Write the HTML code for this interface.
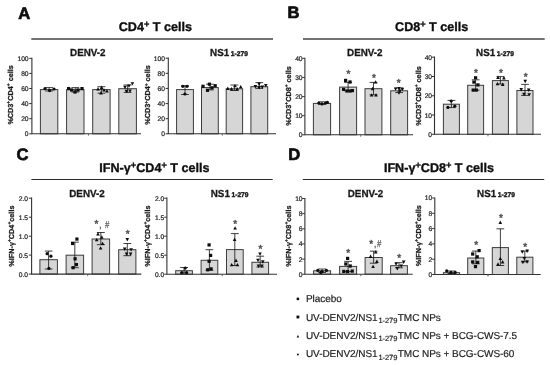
<!DOCTYPE html>
<html lang="en">
<head>
<meta charset="utf-8">
<title>T cell responses</title>
<style>
html,body{margin:0;padding:0;background:#fff;}
body{width:550px;height:365px;overflow:hidden;}
svg{display:block;text-rendering:geometricPrecision;font-family:'Liberation Sans', Arial, sans-serif;}
</style>
</head>
<body>
<svg width="550" height="365" viewBox="0 0 550 365">
<defs><filter id="soft" x="0" y="0" width="550" height="365" filterUnits="userSpaceOnUse"><feGaussianBlur stdDeviation="0.25"/></filter></defs>
<rect width="550" height="365" fill="#fff"/>
<g filter="url(#soft)">
<g font-weight="bold" fill="#111" stroke="#111" stroke-width="0.7" font-size="16.6">
<text x="18.3" y="18.9">A</text><text x="287.6" y="17.9">B</text><text x="16.6" y="159.6">C</text><text x="288.2" y="159.7">D</text>
</g>
<g font-weight="bold" fill="#111" stroke="#111" stroke-width="0.35" font-size="12.6" text-anchor="middle">
<text x="155.4" y="31.2">CD4<tspan font-size="9.2" dy="-4.0">+</tspan><tspan dy="4.0"> T cells</tspan></text>
<text x="431.7" y="31.3">CD8<tspan font-size="9.2" dy="-4.0">+</tspan><tspan dy="4.0"> T cells</tspan></text>
<text x="154.4" y="171.8">IFN-γ<tspan font-size="9.2" dy="-4.0">+</tspan><tspan dy="4.0">CD4</tspan><tspan font-size="9.2" dy="-4.0">+</tspan><tspan dy="4.0"> T cells</tspan></text>
<text x="439.0" y="171.8">IFN-γ<tspan font-size="9.2" dy="-4.0">+</tspan><tspan dy="4.0">CD8</tspan><tspan font-size="9.2" dy="-4.0">+</tspan><tspan dy="4.0"> T cells</tspan></text>
</g>
<g stroke="#444" stroke-width="1.3">
<path d="M31.3 39H273"/><path d="M303 39H544.7"/>
</g>
<g stroke="#2a2a2a" stroke-width="1.05">
<path d="M31.4 179.4H272.7"/><path d="M302.8 179.4H544.2"/>
</g>
<g font-size="6.7" fill="#222" stroke="#222" stroke-width="0.22" text-anchor="end">
<text x="28.6" y="136.2">0</text>
<text x="28.6" y="121.2">20</text>
<text x="28.6" y="106.1">40</text>
<text x="28.6" y="91.0">60</text>
<text x="28.6" y="75.9">80</text>
<text x="28.6" y="60.8">100</text>
</g>
<g fill="#d6d6d6" stroke="#3c3c3c" stroke-width="1">
<rect x="40.4" y="89.6" width="17.4" height="44.2"/>
<rect x="66.6" y="89.6" width="17.4" height="44.2"/>
<rect x="92.7" y="89.6" width="17.4" height="44.2"/>
<rect x="118.8" y="88.7" width="17.6" height="45.1"/>
</g>
<g stroke="#333" stroke-width="1.1" fill="none">
<path d="M31.9 57.7V133.8M31.3 133.8H141"/>
<path d="M29.2 133.8H31.9" stroke-width="1"/>
<path d="M29.2 118.7H31.9" stroke-width="1"/>
<path d="M29.2 103.6H31.9" stroke-width="1"/>
<path d="M29.2 88.5H31.9" stroke-width="1"/>
<path d="M29.2 73.4H31.9" stroke-width="1"/>
<path d="M29.2 58.3H31.9" stroke-width="1"/>
</g>
<path d="M87.8 134.3H88.9L88.3 136.2Z" fill="#2a2a2a"/>
<g stroke="#111" stroke-width="0.8" fill="none">
<path d="M49.1 87.6V91.0M45.2 87.6H53.0M45.2 91.0H53.0"/>
<path d="M75.3 87.6V92.0M71.4 87.6H79.2M71.4 92.0H79.2"/>
<path d="M101.4 86.7V93.2M97.5 86.7H105.3M97.5 93.2H105.3"/>
<path d="M127.6 85.0V92.4M123.7 85.0H131.5M123.7 92.4H131.5"/>
</g>
<g fill="#0a0a0a">
<circle cx="45.0" cy="88.6" r="1.60"/>
<circle cx="49.6" cy="90.6" r="1.60"/>
<circle cx="54.0" cy="89.0" r="1.60"/>
<rect x="67.0" y="87.0" width="3.2" height="3.2"/>
<rect x="70.0" y="88.4" width="3.2" height="3.2"/>
<rect x="73.4" y="90.4" width="3.2" height="3.2"/>
<rect x="76.4" y="88.4" width="3.2" height="3.2"/>
<rect x="80.4" y="87.0" width="3.2" height="3.2"/>
<path d="M96.2 90.4L99.8 90.4L98.0 87.0Z"/>
<path d="M99.8 89.0L103.4 89.0L101.6 85.6Z"/>
<path d="M102.2 91.6L105.8 91.6L104.0 88.2Z"/>
<path d="M105.2 92.6L108.8 92.6L107.0 89.2Z"/>
<path d="M99.2 94.6L102.8 94.6L101.0 91.2Z"/>
<path d="M123.2 85.8L126.8 85.8L125.0 89.2Z"/>
<path d="M127.2 84.4L130.8 84.4L129.0 87.8Z"/>
<path d="M130.6 82.2L134.2 82.2L132.4 85.6Z"/>
<path d="M124.6 89.8L128.2 89.8L126.4 93.2Z"/>
<path d="M128.2 89.4L131.8 89.4L130.0 92.8Z"/>
</g>
<g font-size="10" fill="#5c5c5c" stroke="#5c5c5c" stroke-width="0.6" stroke-linejoin="round" text-anchor="middle">
</g>
<text transform="translate(12.6 94.9) rotate(-90)" font-size="7.25" font-weight="bold" fill="#1a1a1a" stroke="#1a1a1a" stroke-width="0.25" text-anchor="middle">%CD3<tspan font-size="5" dy="-2.7">+</tspan><tspan dy="2.7">CD4</tspan><tspan font-size="5" dy="-2.7">+</tspan><tspan dy="2.7"> cells</tspan></text>
<text transform="translate(87.8 56.3) scale(0.965 1)" font-size="10.2" font-weight="bold" fill="#1a1a1a" stroke="#1a1a1a" stroke-width="0.3" text-anchor="middle">DENV-2</text>
<g font-size="6.7" fill="#222" stroke="#222" stroke-width="0.22" text-anchor="end">
<text x="165.0" y="136.2">0</text>
<text x="165.0" y="121.1">20</text>
<text x="165.0" y="106.0">40</text>
<text x="165.0" y="90.9">60</text>
<text x="165.0" y="75.8">80</text>
<text x="165.0" y="60.7">100</text>
</g>
<g fill="#d6d6d6" stroke="#3c3c3c" stroke-width="1">
<rect x="176.6" y="89.6" width="16.8" height="44.2"/>
<rect x="201.5" y="87.6" width="16.8" height="46.2"/>
<rect x="226.2" y="88.8" width="16.4" height="45.0"/>
<rect x="250.9" y="86.7" width="16.8" height="47.1"/>
</g>
<g stroke="#333" stroke-width="1.1" fill="none">
<path d="M168.3 57.6V133.8M167.7 133.8H276"/>
<path d="M165.6 133.8H168.3" stroke-width="1"/>
<path d="M165.6 118.7H168.3" stroke-width="1"/>
<path d="M165.6 103.6H168.3" stroke-width="1"/>
<path d="M165.6 88.4H168.3" stroke-width="1"/>
<path d="M165.6 73.3H168.3" stroke-width="1"/>
<path d="M165.6 58.2H168.3" stroke-width="1"/>
</g>
<path d="M221.7 134.3H222.8L222.2 136.2Z" fill="#2a2a2a"/>
<g stroke="#111" stroke-width="0.8" fill="none">
<path d="M185.0 85.7V94.5M181.1 85.7H188.9M181.1 94.5H188.9"/>
<path d="M209.9 84.2V89.9M206.0 84.2H213.8M206.0 89.9H213.8"/>
<path d="M234.4 85.0V90.5M230.5 85.0H238.3M230.5 90.5H238.3"/>
<path d="M259.3 82.6V88.4M255.4 82.6H263.2M255.4 88.4H263.2"/>
</g>
<g fill="#0a0a0a">
<circle cx="182.8" cy="86.3" r="1.60"/>
<circle cx="187.0" cy="86.3" r="1.60"/>
<circle cx="184.9" cy="94.0" r="1.60"/>
<rect x="201.4" y="84.7" width="3.2" height="3.2"/>
<rect x="207.8" y="82.6" width="3.2" height="3.2"/>
<rect x="213.6" y="84.1" width="3.2" height="3.2"/>
<rect x="210.4" y="86.2" width="3.2" height="3.2"/>
<rect x="205.9" y="88.7" width="3.2" height="3.2"/>
<path d="M226.0 90.0L229.6 90.0L227.8 86.6Z"/>
<path d="M229.7 90.4L233.3 90.4L231.5 87.0Z"/>
<path d="M233.2 87.3L236.8 87.3L235.0 83.9Z"/>
<path d="M235.4 90.4L239.0 90.4L237.2 87.0Z"/>
<path d="M238.9 88.3L242.5 88.3L240.7 84.9Z"/>
<path d="M253.6 85.1L257.2 85.1L255.4 88.5Z"/>
<path d="M257.3 82.6L260.9 82.6L259.1 86.0Z"/>
<path d="M260.5 85.6L264.1 85.6L262.3 89.0Z"/>
<path d="M264.0 84.1L267.6 84.1L265.8 87.5Z"/>
<path d="M257.3 86.2L260.9 86.2L259.1 89.6Z"/>
</g>
<g font-size="10" fill="#5c5c5c" stroke="#5c5c5c" stroke-width="0.6" stroke-linejoin="round" text-anchor="middle">
</g>
<text transform="translate(150.2 95.0) rotate(-90)" font-size="7.25" font-weight="bold" fill="#1a1a1a" stroke="#1a1a1a" stroke-width="0.25" text-anchor="middle">%CD3<tspan font-size="5" dy="-2.7">+</tspan><tspan dy="2.7">CD4</tspan><tspan font-size="5" dy="-2.7">+</tspan><tspan dy="2.7"> cells</tspan></text>
<text transform="translate(229.0 56.3) scale(0.965 1)" font-size="10.2" font-weight="bold" fill="#1a1a1a" stroke="#1a1a1a" stroke-width="0.3" text-anchor="middle">NS1<tspan font-size="6.9" dx="1.7" dy="0.1" stroke-width="0.4">1-279</tspan></text>
<g font-size="6.7" fill="#222" stroke="#222" stroke-width="0.22" text-anchor="end">
<text x="302.6" y="137.2">0</text>
<text x="302.6" y="118.1">10</text>
<text x="302.6" y="99.0">20</text>
<text x="302.6" y="79.9">30</text>
<text x="302.6" y="60.8">40</text>
</g>
<g fill="#d6d6d6" stroke="#3c3c3c" stroke-width="1">
<rect x="313.4" y="103.4" width="17.2" height="31.4"/>
<rect x="339.6" y="87.1" width="17.0" height="47.7"/>
<rect x="365.0" y="88.7" width="16.9" height="46.1"/>
<rect x="390.7" y="90.8" width="16.9" height="44.0"/>
</g>
<g stroke="#333" stroke-width="1.1" fill="none">
<path d="M304.9 57.7V134.8M304.3 134.8H413"/>
<path d="M302.2 134.8H304.9" stroke-width="1"/>
<path d="M302.2 115.7H304.9" stroke-width="1"/>
<path d="M302.2 96.6H304.9" stroke-width="1"/>
<path d="M302.2 77.4H304.9" stroke-width="1"/>
<path d="M302.2 58.3H304.9" stroke-width="1"/>
</g>
<path d="M360.2 135.3H361.4L360.8 137.2Z" fill="#2a2a2a"/>
<g stroke="#111" stroke-width="0.8" fill="none">
<path d="M322.0 101.8V104.4M318.1 101.8H325.9M318.1 104.4H325.9"/>
<path d="M348.1 82.4V90.8M344.2 82.4H352.0M344.2 90.8H352.0"/>
<path d="M373.5 82.4V94.8M369.6 82.4H377.4M369.6 94.8H377.4"/>
<path d="M399.1 88.0V92.6M395.2 88.0H403.0M395.2 92.6H403.0"/>
</g>
<g fill="#0a0a0a">
<circle cx="318.8" cy="103.0" r="1.60"/>
<circle cx="322.0" cy="104.0" r="1.60"/>
<circle cx="325.6" cy="103.0" r="1.60"/>
<circle cx="327.4" cy="102.4" r="1.60"/>
<rect x="344.0" y="78.8" width="3.2" height="3.2"/>
<rect x="348.4" y="80.4" width="3.2" height="3.2"/>
<rect x="342.0" y="87.8" width="3.2" height="3.2"/>
<rect x="345.4" y="89.4" width="3.2" height="3.2"/>
<rect x="348.4" y="89.4" width="3.2" height="3.2"/>
<rect x="350.8" y="89.0" width="3.2" height="3.2"/>
<path d="M373.8 83.6L377.4 83.6L375.6 80.2Z"/>
<path d="M370.8 90.2L374.4 90.2L372.6 86.8Z"/>
<path d="M369.8 96.6L373.4 96.6L371.6 93.2Z"/>
<path d="M374.2 96.6L377.8 96.6L376.0 93.2Z"/>
<path d="M393.8 87.4L397.4 87.4L395.6 90.8Z"/>
<path d="M397.2 87.0L400.8 87.0L399.0 90.4Z"/>
<path d="M400.6 87.8L404.2 87.8L402.4 91.2Z"/>
<path d="M398.2 89.4L401.8 89.4L400.0 92.8Z"/>
<path d="M397.2 91.4L400.8 91.4L399.0 94.8Z"/>
</g>
<g font-size="10" fill="#5c5c5c" stroke="#5c5c5c" stroke-width="0.6" stroke-linejoin="round" text-anchor="middle">
<text x="348.4" y="76.9">*</text>
<text x="374.0" y="80.9">*</text>
<text x="398.8" y="85.9">*</text>
</g>
<text transform="translate(290.6 96.0) rotate(-90)" font-size="7.25" font-weight="bold" fill="#1a1a1a" stroke="#1a1a1a" stroke-width="0.25" text-anchor="middle">%CD3<tspan font-size="5" dy="-2.7">+</tspan><tspan dy="2.7">CD8</tspan><tspan font-size="5" dy="-2.7">+</tspan><tspan dy="2.7"> cells</tspan></text>
<text transform="translate(364.8 56.3) scale(0.965 1)" font-size="10.2" font-weight="bold" fill="#1a1a1a" stroke="#1a1a1a" stroke-width="0.3" text-anchor="middle">DENV-2</text>
<g font-size="6.7" fill="#222" stroke="#222" stroke-width="0.22" text-anchor="end">
<text x="432.1" y="136.8">0</text>
<text x="432.1" y="117.5">10</text>
<text x="432.1" y="98.2">20</text>
<text x="432.1" y="78.9">30</text>
<text x="432.1" y="59.7">40</text>
</g>
<g fill="#d6d6d6" stroke="#3c3c3c" stroke-width="1">
<rect x="443.4" y="104.2" width="16.0" height="30.1"/>
<rect x="467.7" y="85.3" width="15.9" height="49.0"/>
<rect x="492.4" y="80.6" width="16.0" height="53.7"/>
<rect x="516.9" y="90.5" width="16.1" height="43.8"/>
</g>
<g stroke="#333" stroke-width="1.1" fill="none">
<path d="M434.5 56.6V134.3M433.9 134.3H541"/>
<path d="M431.8 134.3H434.5" stroke-width="1"/>
<path d="M431.8 115.0H434.5" stroke-width="1"/>
<path d="M431.8 95.8H434.5" stroke-width="1"/>
<path d="M431.8 76.5H434.5" stroke-width="1"/>
<path d="M431.8 57.2H434.5" stroke-width="1"/>
</g>
<path d="M487.4 134.8H488.6L488.0 136.7Z" fill="#2a2a2a"/>
<g stroke="#111" stroke-width="0.8" fill="none">
<path d="M451.4 100.4V107.6M447.5 100.4H455.3M447.5 107.6H455.3"/>
<path d="M475.6 79.8V90.2M471.8 79.8H479.5M471.8 90.2H479.5"/>
<path d="M500.4 76.6V84.0M496.5 76.6H504.3M496.5 84.0H504.3"/>
<path d="M525.0 84.4V95.4M521.1 84.4H528.9M521.1 95.4H528.9"/>
</g>
<g fill="#0a0a0a">
<circle cx="451.2" cy="101.0" r="1.60"/>
<circle cx="447.9" cy="107.4" r="1.60"/>
<circle cx="454.8" cy="106.2" r="1.60"/>
<rect x="474.0" y="76.2" width="3.2" height="3.2"/>
<rect x="472.3" y="80.5" width="3.2" height="3.2"/>
<rect x="476.3" y="83.3" width="3.2" height="3.2"/>
<rect x="471.6" y="88.5" width="3.2" height="3.2"/>
<rect x="474.7" y="88.5" width="3.2" height="3.2"/>
<path d="M496.2 79.0L499.8 79.0L498.0 75.6Z"/>
<path d="M502.1 79.4L505.7 79.4L503.9 76.0Z"/>
<path d="M495.7 85.3L499.3 85.3L497.5 81.9Z"/>
<path d="M500.9 86.0L504.5 86.0L502.7 82.6Z"/>
<path d="M523.4 79.8L527.0 79.8L525.2 83.2Z"/>
<path d="M519.4 88.0L523.0 88.0L521.2 91.4Z"/>
<path d="M526.9 88.5L530.5 88.5L528.7 91.9Z"/>
<path d="M522.2 92.8L525.8 92.8L524.0 96.2Z"/>
<path d="M527.4 93.2L531.0 93.2L529.2 96.6Z"/>
</g>
<g font-size="10" fill="#5c5c5c" stroke="#5c5c5c" stroke-width="0.6" stroke-linejoin="round" text-anchor="middle">
<text x="476.0" y="75.5">*</text>
<text x="500.9" y="75.5">*</text>
<text x="525.7" y="79.8">*</text>
</g>
<text transform="translate(420.6 96.0) rotate(-90)" font-size="7.25" font-weight="bold" fill="#1a1a1a" stroke="#1a1a1a" stroke-width="0.25" text-anchor="middle">%CD3<tspan font-size="5" dy="-2.7">+</tspan><tspan dy="2.7">CD8</tspan><tspan font-size="5" dy="-2.7">+</tspan><tspan dy="2.7"> cells</tspan></text>
<text transform="translate(495.0 56.3) scale(0.965 1)" font-size="10.2" font-weight="bold" fill="#1a1a1a" stroke="#1a1a1a" stroke-width="0.3" text-anchor="middle">NS1<tspan font-size="6.9" dx="1.7" dy="0.1" stroke-width="0.4">1-279</tspan></text>
<g font-size="6.7" fill="#222" stroke="#222" stroke-width="0.22" text-anchor="end">
<text x="28.1" y="276.6">0.0</text>
<text x="28.1" y="257.6">0.5</text>
<text x="28.1" y="238.6">1.0</text>
<text x="28.1" y="219.6">1.5</text>
<text x="28.1" y="200.6">2.0</text>
</g>
<g fill="#d6d6d6" stroke="#3c3c3c" stroke-width="1">
<rect x="39.9" y="259.7" width="17.5" height="14.4"/>
<rect x="66.1" y="255.2" width="17.5" height="18.9"/>
<rect x="92.1" y="239.0" width="17.5" height="35.1"/>
<rect x="118.7" y="249.7" width="17.2" height="24.4"/>
</g>
<g stroke="#333" stroke-width="1.1" fill="none">
<path d="M31.6 197.6V274.1M31.0 274.1H141.3"/>
<path d="M28.9 274.1H31.6" stroke-width="1"/>
<path d="M28.9 255.1H31.6" stroke-width="1"/>
<path d="M28.9 236.2H31.6" stroke-width="1"/>
<path d="M28.9 217.2H31.6" stroke-width="1"/>
<path d="M28.9 198.2H31.6" stroke-width="1"/>
</g>
<path d="M87.2 274.6H88.4L87.8 276.5Z" fill="#2a2a2a"/>
<g stroke="#111" stroke-width="0.8" fill="none">
<path d="M48.6 251.1V269.0M44.8 251.1H52.5M44.8 269.0H52.5"/>
<path d="M74.8 242.2V267.7M70.9 242.2H78.8M70.9 267.7H78.8"/>
<path d="M100.8 232.5V244.7M96.9 232.5H104.8M96.9 244.7H104.8"/>
<path d="M127.3 243.5V255.7M123.4 243.5H131.2M123.4 255.7H131.2"/>
</g>
<g fill="#0a0a0a">
<circle cx="47.1" cy="253.7" r="1.60"/>
<circle cx="50.9" cy="256.2" r="1.60"/>
<circle cx="48.9" cy="268.4" r="1.60"/>
<rect x="75.3" y="237.5" width="3.2" height="3.2"/>
<rect x="71.0" y="241.9" width="3.2" height="3.2"/>
<rect x="73.5" y="257.2" width="3.2" height="3.2"/>
<rect x="74.8" y="263.0" width="3.2" height="3.2"/>
<rect x="71.5" y="266.1" width="3.2" height="3.2"/>
<path d="M96.2 235.4L99.8 235.4L98.0 232.0Z"/>
<path d="M100.0 238.7L103.6 238.7L101.8 235.3Z"/>
<path d="M94.9 241.3L98.5 241.3L96.7 237.9Z"/>
<path d="M100.8 245.1L104.4 245.1L102.6 241.7Z"/>
<path d="M98.8 249.6L102.4 249.6L100.6 246.2Z"/>
<path d="M125.5 238.1L129.1 238.1L127.3 241.5Z"/>
<path d="M122.9 247.5L126.5 247.5L124.7 250.9Z"/>
<path d="M129.3 248.2L132.9 248.2L131.1 251.6Z"/>
<path d="M124.7 252.6L128.3 252.6L126.5 256.0Z"/>
<path d="M128.8 252.6L132.4 252.6L130.6 256.0Z"/>
</g>
<g font-size="10" fill="#5c5c5c" stroke="#5c5c5c" stroke-width="0.6" stroke-linejoin="round" text-anchor="middle">
<text x="96.4" y="227.3">*</text>
<text x="127.6" y="236.8">*</text>
</g>
<g font-size="10" fill="#5c5c5c" stroke="#5c5c5c" stroke-width="0.25">
<text x="99.1" y="227.5">,</text>
<text transform="translate(104.9 227.5) scale(0.78 1.02)">#</text>
</g>
<text transform="translate(13.9 236.1) rotate(-90)" font-size="7.25" font-weight="bold" fill="#1a1a1a" stroke="#1a1a1a" stroke-width="0.25" text-anchor="middle">%IFN-γ<tspan font-size="5" dy="-2.7">+</tspan><tspan dy="2.7">CD4</tspan><tspan font-size="5" dy="-2.7">+</tspan><tspan dy="2.7">cells</tspan></text>
<text transform="translate(87.0 196.8) scale(0.965 1)" font-size="10.2" font-weight="bold" fill="#1a1a1a" stroke="#1a1a1a" stroke-width="0.3" text-anchor="middle">DENV-2</text>
<g font-size="6.7" fill="#222" stroke="#222" stroke-width="0.22" text-anchor="end">
<text x="164.2" y="276.6">0.0</text>
<text x="164.2" y="257.6">0.5</text>
<text x="164.2" y="238.6">1.0</text>
<text x="164.2" y="219.6">1.5</text>
<text x="164.2" y="200.6">2.0</text>
</g>
<g fill="#d6d6d6" stroke="#3c3c3c" stroke-width="1">
<rect x="175.7" y="270.7" width="16.7" height="3.5"/>
<rect x="201.1" y="260.3" width="16.7" height="13.9"/>
<rect x="226.5" y="249.6" width="16.7" height="24.6"/>
<rect x="251.9" y="262.3" width="16.7" height="11.9"/>
</g>
<g stroke="#333" stroke-width="1.1" fill="none">
<path d="M166.9 197.6V274.2M166.3 274.2H277"/>
<path d="M164.2 274.2H166.9" stroke-width="1"/>
<path d="M164.2 255.2H166.9" stroke-width="1"/>
<path d="M164.2 236.2H166.9" stroke-width="1"/>
<path d="M164.2 217.2H166.9" stroke-width="1"/>
<path d="M164.2 198.2H166.9" stroke-width="1"/>
</g>
<path d="M221.5 274.7H222.7L222.1 276.6Z" fill="#2a2a2a"/>
<g stroke="#111" stroke-width="0.8" fill="none">
<path d="M184.1 267.5V273.0M180.2 267.5H188.0M180.2 273.0H188.0"/>
<path d="M209.4 249.7V270.3M205.5 249.7H213.3M205.5 270.3H213.3"/>
<path d="M234.8 233.6V265.5M230.9 233.6H238.8M230.9 265.5H238.8"/>
<path d="M260.2 256.2V267.0M256.4 256.2H264.1M256.4 267.0H264.1"/>
</g>
<g fill="#0a0a0a">
<circle cx="185.2" cy="268.1" r="1.60"/>
<circle cx="181.8" cy="272.6" r="1.60"/>
<circle cx="186.6" cy="272.6" r="1.60"/>
<rect x="207.5" y="243.3" width="3.2" height="3.2"/>
<rect x="209.0" y="253.8" width="3.2" height="3.2"/>
<rect x="207.5" y="259.7" width="3.2" height="3.2"/>
<rect x="206.1" y="268.2" width="3.2" height="3.2"/>
<rect x="209.5" y="267.3" width="3.2" height="3.2"/>
<path d="M233.3 229.6L236.9 229.6L235.1 226.2Z"/>
<path d="M232.8 240.9L236.4 240.9L234.6 237.5Z"/>
<path d="M234.2 262.0L237.8 262.0L236.0 258.6Z"/>
<path d="M229.9 266.3L233.5 266.3L231.7 262.9Z"/>
<path d="M235.6 266.3L239.2 266.3L237.4 262.9Z"/>
<path d="M258.2 252.4L261.8 252.4L260.0 255.8Z"/>
<path d="M256.2 258.8L259.8 258.8L258.0 262.2Z"/>
<path d="M261.0 260.3L264.6 260.3L262.8 263.7Z"/>
<path d="M256.7 264.5L260.3 264.5L258.5 267.9Z"/>
<path d="M260.1 264.5L263.7 264.5L261.9 267.9Z"/>
</g>
<g font-size="10" fill="#5c5c5c" stroke="#5c5c5c" stroke-width="0.6" stroke-linejoin="round" text-anchor="middle">
<text x="235.1" y="226.6">*</text>
<text x="260.5" y="252.0">*</text>
</g>
<text transform="translate(150.0 236.1) rotate(-90)" font-size="7.25" font-weight="bold" fill="#1a1a1a" stroke="#1a1a1a" stroke-width="0.25" text-anchor="middle">%IFN-γ<tspan font-size="5" dy="-2.7">+</tspan><tspan dy="2.7">CD4</tspan><tspan font-size="5" dy="-2.7">+</tspan><tspan dy="2.7">cells</tspan></text>
<text transform="translate(229.6 196.7) scale(0.965 1)" font-size="10.2" font-weight="bold" fill="#1a1a1a" stroke="#1a1a1a" stroke-width="0.3" text-anchor="middle">NS1<tspan font-size="6.9" dx="1.7" dy="0.1" stroke-width="0.4">1-279</tspan></text>
<g font-size="6.7" fill="#222" stroke="#222" stroke-width="0.22" text-anchor="end">
<text x="302.6" y="276.6">0</text>
<text x="302.6" y="261.5">2</text>
<text x="302.6" y="246.4">4</text>
<text x="302.6" y="231.2">6</text>
<text x="302.6" y="216.1">8</text>
<text x="302.6" y="200.9">10</text>
</g>
<g fill="#d6d6d6" stroke="#3c3c3c" stroke-width="1">
<rect x="313.6" y="270.8" width="17.0" height="3.4"/>
<rect x="339.6" y="266.4" width="17.0" height="7.8"/>
<rect x="365.1" y="257.5" width="17.1" height="16.7"/>
<rect x="390.6" y="265.7" width="16.8" height="8.5"/>
</g>
<g stroke="#333" stroke-width="1.1" fill="none">
<path d="M304.9 197.9V274.2M304.3 274.2H412.7"/>
<path d="M302.2 274.2H304.9" stroke-width="1"/>
<path d="M302.2 259.1H304.9" stroke-width="1"/>
<path d="M302.2 243.9H304.9" stroke-width="1"/>
<path d="M302.2 228.8H304.9" stroke-width="1"/>
<path d="M302.2 213.6H304.9" stroke-width="1"/>
<path d="M302.2 198.5H304.9" stroke-width="1"/>
</g>
<path d="M360.2 274.7H361.5L360.9 276.6Z" fill="#2a2a2a"/>
<g stroke="#111" stroke-width="0.8" fill="none">
<path d="M322.1 269.0V272.4M318.2 269.0H326.0M318.2 272.4H326.0"/>
<path d="M348.1 261.4V271.6M344.2 261.4H352.0M344.2 271.6H352.0"/>
<path d="M373.6 251.2V263.2M369.8 251.2H377.5M369.8 263.2H377.5"/>
<path d="M399.0 262.7V267.8M395.1 262.7H402.9M395.1 267.8H402.9"/>
</g>
<g fill="#0a0a0a">
<circle cx="317.8" cy="270.4" r="1.60"/>
<circle cx="322.1" cy="271.6" r="1.60"/>
<circle cx="326.4" cy="270.4" r="1.60"/>
<circle cx="320.8" cy="272.4" r="1.60"/>
<rect x="346.0" y="256.8" width="3.2" height="3.2"/>
<rect x="344.2" y="262.4" width="3.2" height="3.2"/>
<rect x="348.6" y="264.4" width="3.2" height="3.2"/>
<rect x="342.2" y="269.8" width="3.2" height="3.2"/>
<rect x="346.0" y="270.0" width="3.2" height="3.2"/>
<rect x="350.6" y="269.5" width="3.2" height="3.2"/>
<path d="M373.9 253.6L377.5 253.6L375.7 250.2Z"/>
<path d="M368.8 257.9L372.4 257.9L370.6 254.5Z"/>
<path d="M375.1 263.0L378.7 263.0L376.9 259.6Z"/>
<path d="M371.3 268.1L374.9 268.1L373.1 264.7Z"/>
<path d="M394.3 262.4L397.9 262.4L396.1 265.8Z"/>
<path d="M401.9 260.6L405.5 260.6L403.7 264.0Z"/>
<path d="M399.4 264.4L403.0 264.4L401.2 267.8Z"/>
<path d="M395.5 267.0L399.1 267.0L397.3 270.4Z"/>
</g>
<g font-size="10" fill="#5c5c5c" stroke="#5c5c5c" stroke-width="0.6" stroke-linejoin="round" text-anchor="middle">
<text x="348.1" y="255.5">*</text>
<text x="371.1" y="246.8">*</text>
<text x="399.1" y="260.6">*</text>
</g>
<g font-size="10" fill="#5c5c5c" stroke="#5c5c5c" stroke-width="0.25">
<text x="373.8" y="246.5">,</text>
<text transform="translate(377.0 246.5) scale(0.78 1.02)">#</text>
</g>
<text transform="translate(290.6 236.1) rotate(-90)" font-size="7.25" font-weight="bold" fill="#1a1a1a" stroke="#1a1a1a" stroke-width="0.25" text-anchor="middle">%IFN-γ<tspan font-size="5" dy="-2.7">+</tspan><tspan dy="2.7">CD8</tspan><tspan font-size="5" dy="-2.7">+</tspan><tspan dy="2.7">cells</tspan></text>
<text transform="translate(365.5 196.8) scale(0.965 1)" font-size="10.2" font-weight="bold" fill="#1a1a1a" stroke="#1a1a1a" stroke-width="0.3" text-anchor="middle">DENV-2</text>
<g font-size="6.7" fill="#222" stroke="#222" stroke-width="0.22" text-anchor="end">
<text x="432.2" y="276.9">0</text>
<text x="432.2" y="261.6">2</text>
<text x="432.2" y="246.3">4</text>
<text x="432.2" y="231.0">6</text>
<text x="432.2" y="215.8">8</text>
<text x="432.2" y="200.4">10</text>
</g>
<g fill="#d6d6d6" stroke="#3c3c3c" stroke-width="1">
<rect x="443.4" y="272.7" width="16.2" height="1.8"/>
<rect x="467.7" y="258.0" width="16.1" height="16.5"/>
<rect x="492.3" y="247.6" width="16.1" height="26.9"/>
<rect x="516.8" y="257.2" width="16.1" height="17.3"/>
</g>
<g stroke="#333" stroke-width="1.1" fill="none">
<path d="M434.8 197.4V274.5M434.2 274.5H540.7"/>
<path d="M432.1 274.5H434.8" stroke-width="1"/>
<path d="M432.1 259.2H434.8" stroke-width="1"/>
<path d="M432.1 243.9H434.8" stroke-width="1"/>
<path d="M432.1 228.6H434.8" stroke-width="1"/>
<path d="M432.1 213.3H434.8" stroke-width="1"/>
<path d="M432.1 198.0H434.8" stroke-width="1"/>
</g>
<path d="M487.4 275.0H488.6L488.0 276.9Z" fill="#2a2a2a"/>
<g stroke="#111" stroke-width="0.8" fill="none">
<path d="M451.5 271.0V273.5M447.6 271.0H455.4M447.6 273.5H455.4"/>
<path d="M475.8 251.1V263.8M471.9 251.1H479.6M471.9 263.8H479.6"/>
<path d="M500.4 228.8V265.5M496.5 228.8H504.2M496.5 265.5H504.2"/>
<path d="M524.8 251.1V261.9M520.9 251.1H528.7M520.9 261.9H528.7"/>
</g>
<g fill="#0a0a0a">
<circle cx="446.7" cy="270.9" r="1.60"/>
<circle cx="450.9" cy="272.4" r="1.60"/>
<circle cx="455.2" cy="272.4" r="1.60"/>
<rect x="477.5" y="249.0" width="3.2" height="3.2"/>
<rect x="471.1" y="252.4" width="3.2" height="3.2"/>
<rect x="475.6" y="255.2" width="3.2" height="3.2"/>
<rect x="471.1" y="260.3" width="3.2" height="3.2"/>
<rect x="476.1" y="260.8" width="3.2" height="3.2"/>
<rect x="473.9" y="265.0" width="3.2" height="3.2"/>
<path d="M498.5 223.9L502.1 223.9L500.3 220.5Z"/>
<path d="M498.5 260.1L502.1 260.1L500.3 256.7Z"/>
<path d="M496.2 265.7L499.8 265.7L498.0 262.3Z"/>
<path d="M500.8 263.5L504.4 263.5L502.6 260.1Z"/>
<path d="M520.5 250.4L524.1 250.4L522.3 253.8Z"/>
<path d="M525.3 249.5L528.9 249.5L527.1 252.9Z"/>
<path d="M522.5 256.9L526.1 256.9L524.3 260.3Z"/>
<path d="M521.1 260.8L524.7 260.8L522.9 264.2Z"/>
<path d="M525.3 260.3L528.9 260.3L527.1 263.7Z"/>
</g>
<g font-size="10" fill="#5c5c5c" stroke="#5c5c5c" stroke-width="0.6" stroke-linejoin="round" text-anchor="middle">
<text x="476.3" y="247.8">*</text>
<text x="500.9" y="221.3">*</text>
<text x="525.2" y="249.8">*</text>
</g>
<text transform="translate(421.1 235.7) rotate(-90)" font-size="7.25" font-weight="bold" fill="#1a1a1a" stroke="#1a1a1a" stroke-width="0.25" text-anchor="middle">%IFN-γ<tspan font-size="5" dy="-2.7">+</tspan><tspan dy="2.7">CD8</tspan><tspan font-size="5" dy="-2.7">+</tspan><tspan dy="2.7">cells</tspan></text>
<text transform="translate(496.0 196.7) scale(0.965 1)" font-size="10.2" font-weight="bold" fill="#1a1a1a" stroke="#1a1a1a" stroke-width="0.3" text-anchor="middle">NS1<tspan font-size="6.9" dx="1.7" dy="0.1" stroke-width="0.4">1-279</tspan></text>
<g font-size="10" letter-spacing="-0.045" fill="#1c1c1c" stroke="#1c1c1c" stroke-width="0.18">
<text x="305.9" y="302.2">Placebo</text>
<text x="305.9" y="320.5">UV-DENV2/NS1<tspan font-size="7.5" dx="0.8" dy="2.4">1-279</tspan><tspan dx="0.4" dy="-2.4">TMC NPs</tspan></text>
<text x="305.9" y="338.9">UV-DENV2/NS1<tspan font-size="7.5" dx="0.8" dy="2.4">1-279</tspan><tspan dx="0.4" dy="-2.4">TMC NPs + BCG-CWS-7.5</tspan></text>
<text x="305.9" y="357.3">UV-DENV2/NS1<tspan font-size="7.5" dx="0.8" dy="2.4">1-279</tspan><tspan dx="0.4" dy="-2.4">TMC NPs + BCG-CWS-60</tspan></text>
</g>
<g fill="#111">
<circle cx="297.9" cy="298.9" r="1.40"/>
<rect x="296.5" y="315.6" width="2.8" height="2.8"/>
<path d="M296.6 337.5L299.2 337.5L297.9 335.1Z"/>
<path d="M296.6 353.7L299.2 353.7L297.9 356.1Z"/>
</g>
</g>
</svg>
</body>
</html>
